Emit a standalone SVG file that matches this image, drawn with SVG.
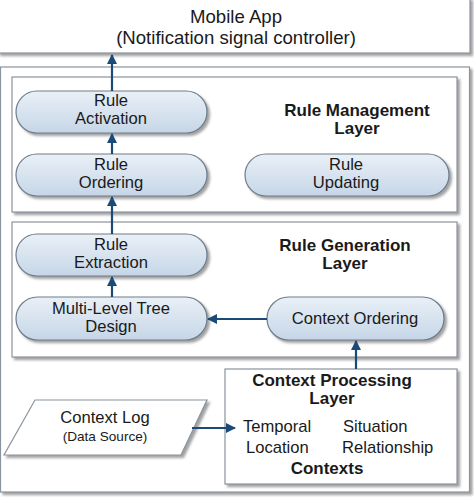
<svg xmlns="http://www.w3.org/2000/svg" width="474" height="497" viewBox="0 0 474 497">
<style>
.box{fill:#ffffff;stroke:#8a949e;stroke-width:1.2;filter:url(#sh)}
.pill{fill:url(#pg);stroke:#6e7c8a;stroke-width:1.2;filter:url(#sh)}
.t{font-family:"Liberation Sans",Arial,sans-serif;font-size:16.6px;fill:#1a1a1a;text-anchor:middle}
.m{font-size:18.6px}
.b{font-weight:bold;font-size:17px}
.s{font-size:13.6px}
.l{text-anchor:start}
.c{stroke:#1b4a78;stroke-width:2.2;fill:none;marker-end:url(#ah)}
</style>
<defs>
<linearGradient id="pg" x1="0" y1="0" x2="0" y2="1">
<stop offset="0" stop-color="#e9f0f7"/>
<stop offset="1" stop-color="#c6d6e7"/>
</linearGradient>
<filter id="sh" x="-10%" y="-10%" width="125%" height="130%">
<feDropShadow dx="2.5" dy="2.5" stdDeviation="1" flood-color="#7a7a7a" flood-opacity="0.7"/>
</filter>
<marker id="ah" markerWidth="10" markerHeight="10" refX="9" refY="5" orient="auto" markerUnits="userSpaceOnUse">
<path d="M0,0 L10,5 L0,10 Z" fill="#1b4a78"/>
</marker>
</defs>
<rect width="474" height="497" fill="#ffffff"/>
<g id="mobile-app">
<rect class="box" x="-2" y="-2" width="472" height="55"/>
<text class="t m" x="236" y="23">Mobile App</text>
<text class="t m" x="236" y="44">(Notification signal controller)</text>
</g>
<g id="outer">
<rect class="box" x="0.5" y="67" width="469" height="425"/>
</g>
<g id="rule-management-layer">
<rect class="box" x="12" y="77" width="445" height="135"/>
<text class="t b" x="357" y="116">Rule Management</text>
<text class="t b" x="357" y="134">Layer</text>
</g>
<g id="rule-generation-layer">
<rect class="box" x="12" y="222" width="445" height="135"/>
<text class="t b" x="345" y="251">Rule Generation</text>
<text class="t b" x="345" y="269">Layer</text>
</g>
<g id="context-processing-layer">
<rect class="box" x="225" y="369" width="232" height="115"/>
<text class="t b" x="332" y="386">Context Processing</text>
<text class="t b" x="332" y="404">Layer</text>
<text class="t l" x="243" y="432">Temporal</text>
<text class="t l" x="343" y="432">Situation</text>
<text class="t l" x="246" y="453">Location</text>
<text class="t l" x="342" y="453">Relationship</text>
<text class="t b" x="327" y="474">Contexts</text>
</g>
<g id="rule-activation">
<rect class="pill" x="16" y="91" width="191" height="42" rx="21"/>
<text class="t" x="111" y="106">Rule</text>
<text class="t" x="111" y="124">Activation</text>
</g>
<g id="rule-ordering">
<rect class="pill" x="16" y="154" width="191" height="42" rx="21"/>
<text class="t" x="111" y="170">Rule</text>
<text class="t" x="111" y="188">Ordering</text>
</g>
<g id="rule-updating">
<rect class="pill" x="245" y="154" width="204" height="42" rx="21"/>
<text class="t" x="346" y="170">Rule</text>
<text class="t" x="346" y="188">Updating</text>
</g>
<g id="rule-extraction">
<rect class="pill" x="16" y="234" width="191" height="42" rx="21"/>
<text class="t" x="111" y="250">Rule</text>
<text class="t" x="111" y="268">Extraction</text>
</g>
<g id="multi-level-tree-design">
<rect class="pill" x="16" y="297" width="191" height="43" rx="21.5"/>
<text class="t" x="111" y="314">Multi-Level Tree</text>
<text class="t" x="111" y="332">Design</text>
</g>
<g id="context-ordering">
<rect class="pill" x="267" y="297" width="177" height="43" rx="21.5"/>
<text class="t" x="355" y="324">Context Ordering</text>
</g>
<g id="context-log">
<polygon class="box" points="35,400 207,400 181,455 4,455"/>
<text class="t" x="105" y="423">Context Log</text>
<text class="t s" x="105" y="441">(Data Source)</text>
</g>
<g id="connectors">
<line class="c" x1="112" y1="91" x2="112" y2="55"/>
<line class="c" x1="112" y1="154" x2="112" y2="134"/>
<line class="c" x1="112" y1="234" x2="112" y2="197"/>
<line class="c" x1="112" y1="297" x2="112" y2="277"/>
<line class="c" x1="267" y1="319" x2="208" y2="319"/>
<line class="c" x1="356" y1="369" x2="356" y2="341"/>
<line class="c" x1="192" y1="428" x2="235" y2="428"/>
</g>
</svg>
